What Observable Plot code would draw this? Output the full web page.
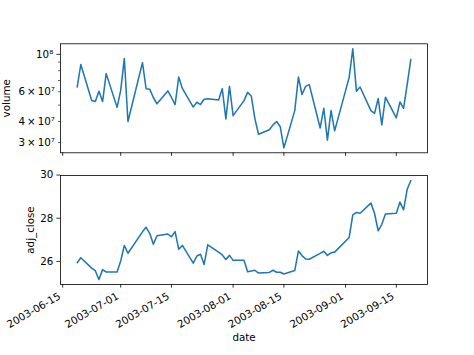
<!DOCTYPE html>
<html><head><meta charset="utf-8">
<script src="https://cdn.jsdelivr.net/npm/d3@7"></script>
<script src="https://cdn.jsdelivr.net/npm/@observablehq/plot@0.6"></script>
<style>body{margin:0;background:#fff} svg{display:block}</style>
</head><body><div id="chart"></div>
<script>
const dates = ["2003-06-19","2003-06-20","2003-06-23","2003-06-24","2003-06-25","2003-06-26","2003-06-27","2003-06-30",
"2003-07-01","2003-07-02","2003-07-03","2003-07-07","2003-07-08","2003-07-09","2003-07-10","2003-07-11",
"2003-07-14","2003-07-15","2003-07-16","2003-07-17","2003-07-18","2003-07-21","2003-07-22","2003-07-23","2003-07-24","2003-07-25",
"2003-07-28","2003-07-29","2003-07-30","2003-07-31","2003-08-01","2003-08-04","2003-08-05","2003-08-06","2003-08-07","2003-08-08",
"2003-08-11","2003-08-12","2003-08-13","2003-08-14","2003-08-15","2003-08-18","2003-08-19","2003-08-20","2003-08-21","2003-08-22",
"2003-08-25","2003-08-26","2003-08-27","2003-08-28","2003-08-29","2003-09-02","2003-09-03","2003-09-04","2003-09-05",
"2003-09-08","2003-09-09","2003-09-10","2003-09-11","2003-09-12","2003-09-15","2003-09-16","2003-09-17","2003-09-18","2003-09-19"];
const volume = [64.0e6,87.1e6,53.2e6,52.5e6,60.5e6,52.5e6,76.9e6,48.5e6,
61.1e6,94.6e6,40.0e6,89.3e6,62.6e6,62.2e6,55.5e6,50.9e6,
60.7e6,55.5e6,50.4e6,73.4e6,62.8e6,48.7e6,52.0e6,50.4e6,54.2e6,54.5e6,
53.6e6,62.6e6,41.4e6,64.6e6,43.3e6,53.2e6,59.5e6,56.7e6,41.6e6,33.6e6,
35.7e6,38.2e6,40.0e6,37.2e6,27.9e6,46.4e6,73.4e6,57.8e6,64.6e6,66.2e6,
36.6e6,47.9e6,31.0e6,46.4e6,35.2e6,73.1e6,108e6,60.5e6,64.1e6,
46.4e6,44.7e6,54.7e6,38.2e6,55.7e6,42.0e6,52.2e6,47.9e6,66.4e6,93.3e6];
const adjClose = [25.94,26.17,25.69,25.57,25.16,25.62,25.51,25.51,
26.02,26.74,26.38,27.37,27.58,27.30,26.80,27.19,
27.27,27.14,27.38,26.56,26.74,25.92,26.25,26.33,25.86,26.77,
26.43,26.30,26.09,26.28,26.05,26.05,25.52,25.56,25.59,25.46,
25.49,25.59,25.50,25.50,25.42,25.58,26.48,26.27,26.11,26.10,
26.37,26.47,26.28,26.40,26.43,27.11,28.16,28.27,28.23,
28.70,28.22,27.42,27.72,28.20,28.23,28.75,28.39,29.34,29.75];

const xTickLabels = ["2003-06-15","2003-07-01","2003-07-15","2003-08-01","2003-08-15","2003-09-01","2003-09-15"];
const volMajorTicks = [1e8];
const volMajorLabels = ["10⁸"];
const volLabeledMinorTicks = [3e7, 4e7, 6e7];
const volLabeledMinorLabels = ["3\u2009×\u200910⁷", "4\u2009×\u200910⁷", "6\u2009×\u200910⁷"];
const volMinorTicks = [5e7, 7e7, 8e7, 9e7];
const closeTicks = [26, 28, 30];
const closeTickLabels = ["26", "28", "30"];

const data = dates.map((d, i) => ({date: new Date(d), volume: volume[i], adj_close: adjClose[i]}));
const pad = (lo, hi) => { const m = (hi - lo) * 0.05; return [lo - m, hi + m]; };
const tms = data.map(d => +d.date);
const xDomain = pad(d3.min(tms), d3.max(tms)).map(v => new Date(v));
const volDomain = pad(Math.log10(d3.min(volume)), Math.log10(d3.max(volume))).map(v => 10 ** v);
const closeDomain = pad(d3.min(adjClose), d3.max(adjClose));
const xTicks = xTickLabels.map(s => new Date(s));

const style = "font-family:'DejaVu Sans';font-size:10.3px;background:#fff;overflow:visible;";
const blue = "#1f77b4";
const lab = (arr, ticks) => d => arr[ticks.findIndex(t => Math.abs(t - d) < 1e-6 * t)];

const topChart = Plot.plot({
  width: 474, height: 163,
  marginLeft: 60, marginRight: 47, marginTop: 43.3, marginBottom: 10.7,
  style,
  x: {type: "utc", domain: xDomain},
  y: {type: "log", domain: volDomain},
  marks: [
    Plot.line(data, {x: "date", y: "volume", stroke: blue, strokeWidth: 1.54}),
    Plot.frame({stroke: "black", strokeWidth: 0.8}),
    Plot.axisX({ticks: xTicks, tickSize: 3.6, strokeWidth: 0.8, tickFormat: () => "", label: null}),
    Plot.axisY({ticks: volMinorTicks, tickSize: 2, strokeWidth: 0.6, tickFormat: () => "", label: null}),
    Plot.axisY({ticks: volLabeledMinorTicks, tickSize: 2, tickPadding: 3.5, strokeWidth: 0.6, tickFormat: lab(volLabeledMinorLabels, volLabeledMinorTicks), label: null, fill: "black"}),
    Plot.axisY({ticks: volMajorTicks, tickSize: 3.6, tickPadding: 3.6, strokeWidth: 0.8, tickFormat: lab(volMajorLabels, volMajorTicks), label: null, fill: "black"}),
    Plot.text(["volume"], {frameAnchor: "left", dx: -54, rotate: -90, text: d => d, textAnchor: "middle", lineAnchor: "middle", fill: "black"})
  ]
});

const bottomChart = Plot.plot({
  width: 474, height: 192,
  marginLeft: 60, marginRight: 47, marginTop: 12, marginBottom: 71,
  style,
  x: {type: "utc", domain: xDomain},
  y: {domain: closeDomain},
  marks: [
    Plot.line(data, {x: "date", y: "adj_close", stroke: blue, strokeWidth: 1.54}),
    Plot.frame({stroke: "black", strokeWidth: 0.8}),
    Plot.axisX({ticks: xTicks, tickSize: 3.6, strokeWidth: 0.8, tickFormat: () => "", label: null}),
    Plot.text(xTicks, {x: d => d, frameAnchor: "bottom", dy: 7.4, dx: -5, rotate: -30, textAnchor: "end", lineAnchor: "top", text: (d, i) => xTickLabels[i], fill: "black"}),
    Plot.axisY({ticks: closeTicks, tickSize: 3.6, tickPadding: 3.6, strokeWidth: 0.8, tickFormat: lab(closeTickLabels, closeTicks), label: null, fill: "black"}),
    Plot.text(["adj_close"], {frameAnchor: "left", dx: -30, rotate: -90, text: d => d, textAnchor: "middle", lineAnchor: "middle", fill: "black"}),
    Plot.text(["date"], {frameAnchor: "bottom", dy: 53.5, text: d => d, textAnchor: "middle", lineAnchor: "middle", fill: "black"})
  ]
});

const c = document.getElementById("chart");
c.appendChild(topChart);
c.appendChild(bottomChart);
</script>
</body></html>
